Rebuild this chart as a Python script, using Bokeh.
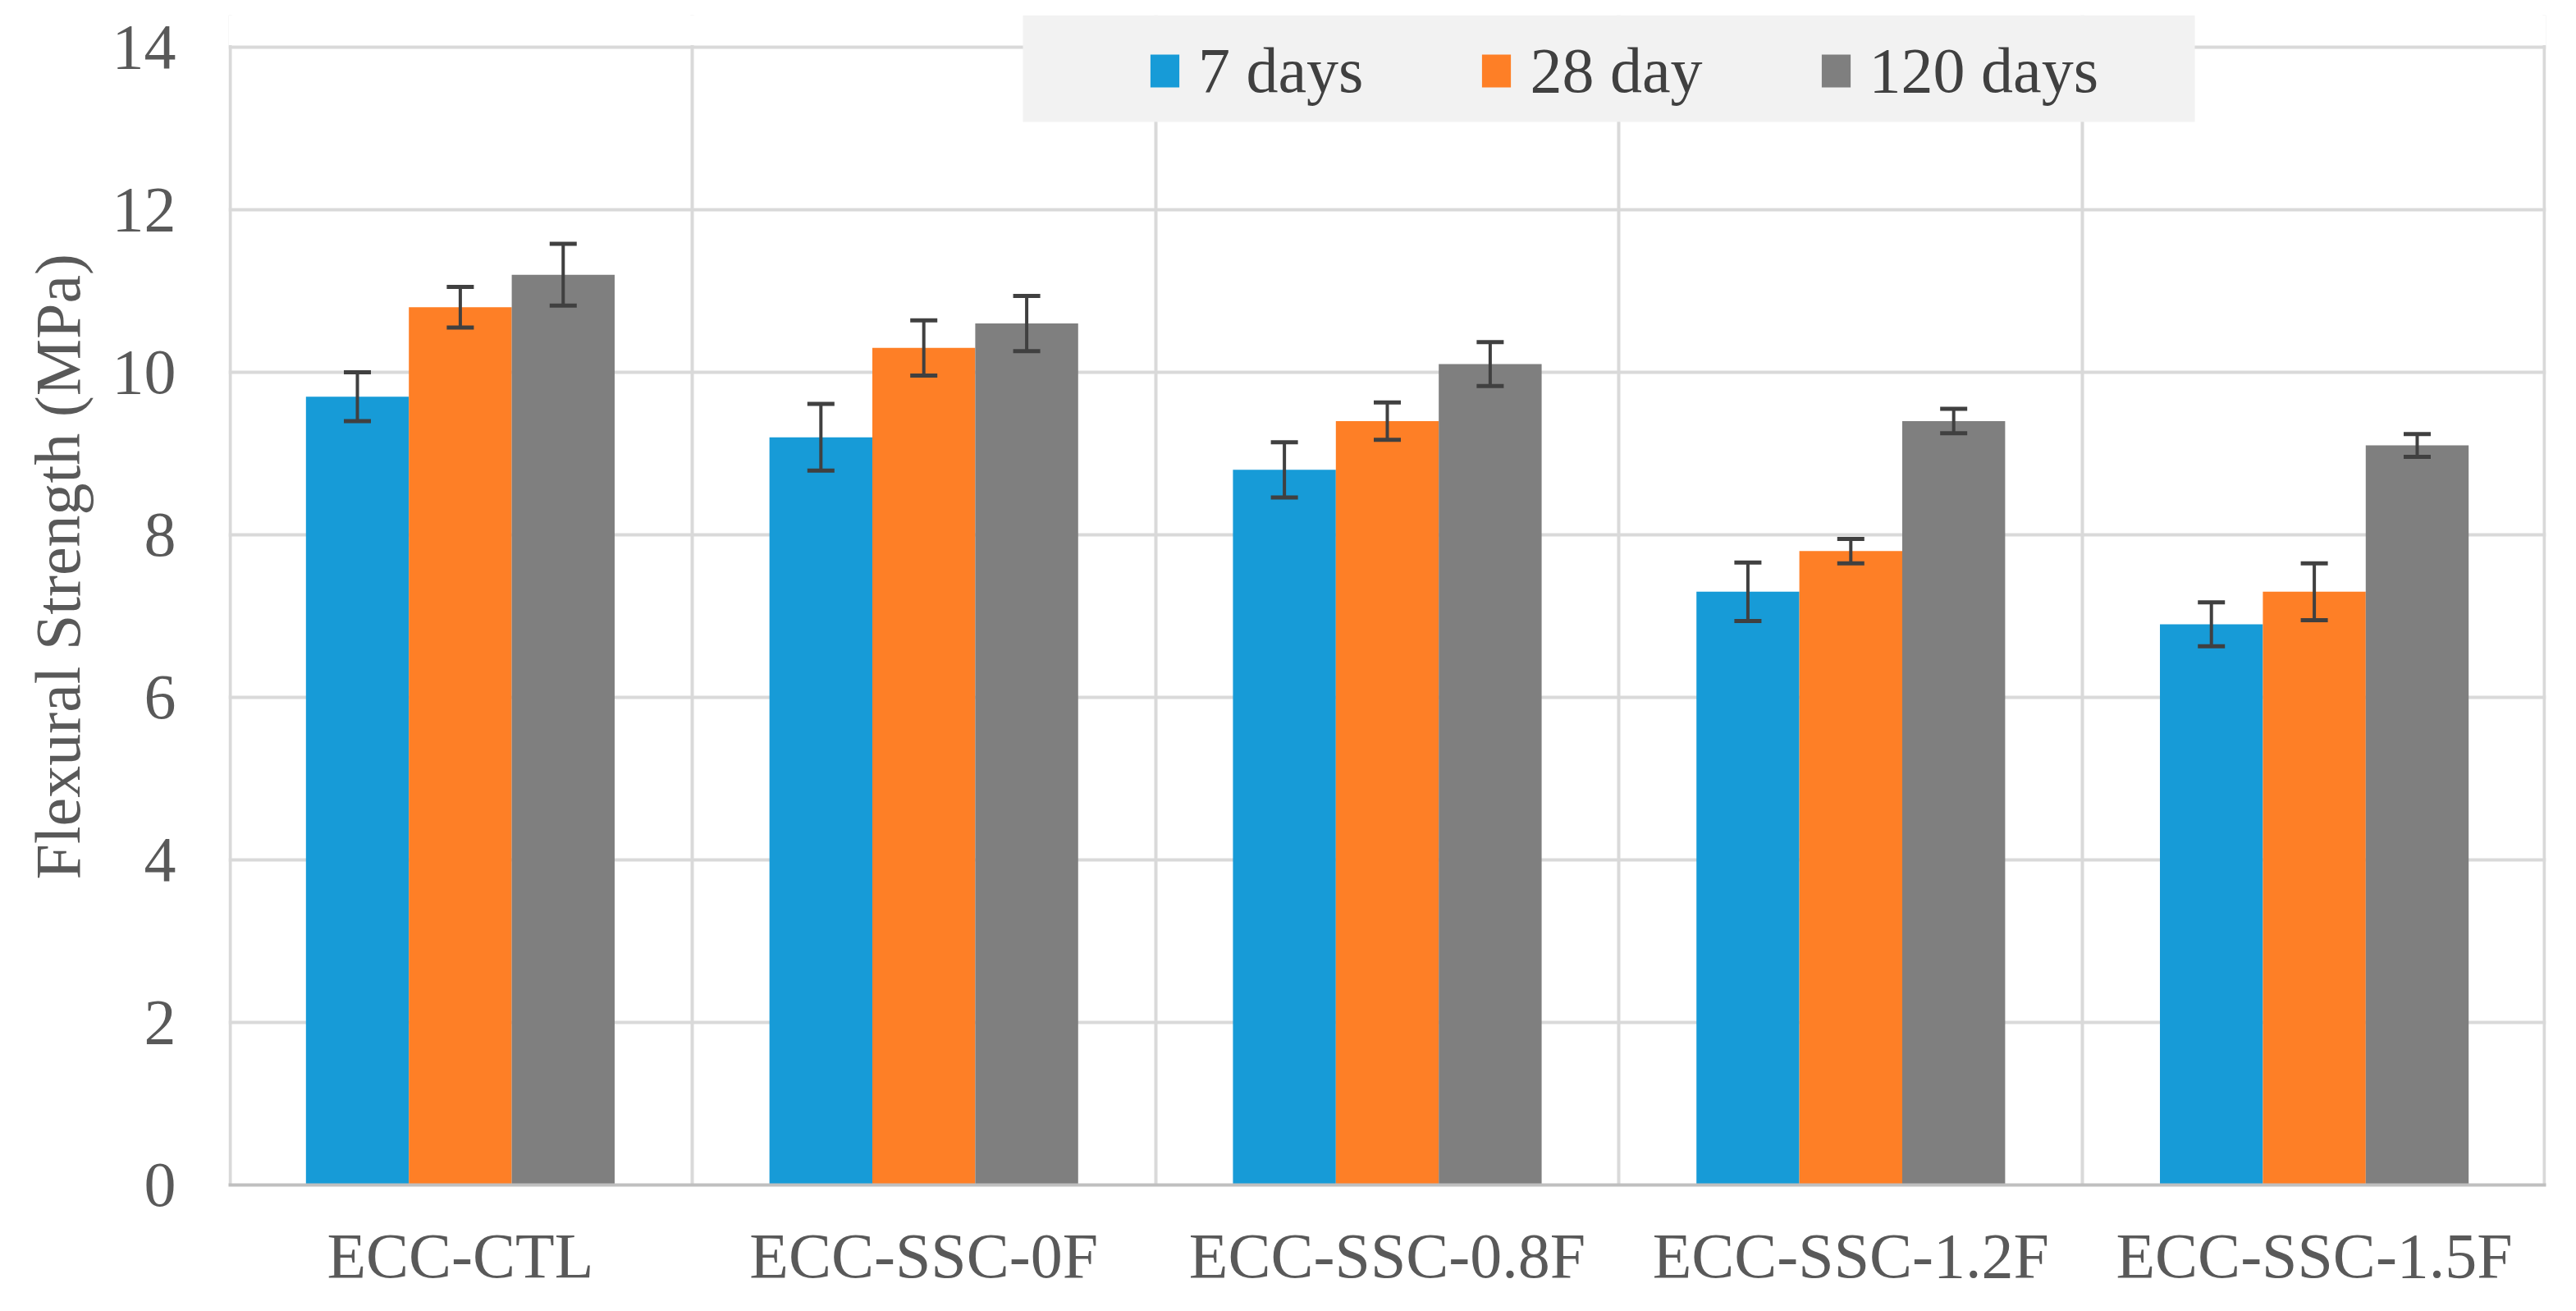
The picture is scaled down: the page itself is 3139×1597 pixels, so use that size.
from bokeh.plotting import figure
from bokeh.models import (ColumnDataSource, FactorRange, Range1d, FixedTicker,
                          Whisker, TeeHead, Legend, LegendItem, BoxAnnotation, Title)
from bokeh.transform import dodge
from bokeh.embed import file_html
from bokeh.resources import INLINE

# ---- data ----
categories = ["ECC-CTL", "ECC-SSC-0F", "ECC-SSC-0.8F", "ECC-SSC-1.2F", "ECC-SSC-1.5F"]
series_names = ["7 days", "28 day", "120 days"]
days7 = [9.7, 9.2, 8.8, 7.3, 6.9]
days28 = [10.8, 10.3, 9.4, 7.8, 7.3]
days120 = [11.2, 10.6, 10.1, 9.4, 9.1]
err7 = [0.30, 0.41, 0.34, 0.36, 0.27]
err28 = [0.25, 0.34, 0.23, 0.15, 0.35]
err120 = [0.38, 0.34, 0.27, 0.15, 0.14]
y_ticks = [0, 2, 4, 6, 8, 10, 12, 14]
y_label = "Flexural Strength (MPa)"

colors = ["#179bd7", "#fe7f26", "#7f7f7f"]
FONT = "Liberation Serif"
GRID = "#d9d9d9"

values = [days7, days28, days120]
errors = [err7, err28, err120]

data = dict(cat=categories)
for i, (v, e) in enumerate(zip(values, errors)):
    data[f"v{i}"] = v
    data[f"up{i}"] = [a + b for a, b in zip(v, e)]
    data[f"lo{i}"] = [a - b for a, b in zip(v, e)]
src = ColumnDataSource(data)

y_max = 14
# the plot frame reaches a little above the 14 line so the legend band can sit there
y_end = y_max + 39 / 99

p = figure(x_range=FactorRange(factors=categories), y_range=Range1d(0, y_end),
           width=3123, height=1581, output_backend="svg", toolbar_location=None,
           min_border_left=278, min_border_right=21, min_border_top=18,
           min_border_bottom=138)
p.background_fill_color = "white"
p.border_fill_color = "white"
p.outline_line_color = None

bw = 0.222
offsets = [-bw, 0.0, bw]
renderers = []
for i in range(3):
    r = p.vbar(x=dodge("cat", offsets[i], range=p.x_range), top=f"v{i}", width=bw,
               bottom=0, source=src, fill_color=colors[i], line_color=None)
    renderers.append(r)

for i in range(3):
    w = Whisker(base=dodge("cat", offsets[i], range=p.x_range), upper=f"up{i}",
                lower=f"lo{i}", source=src, line_color="#404040", line_width=4,
                level="annotation",
                upper_head=TeeHead(size=33, line_color="#404040", line_width=5),
                lower_head=TeeHead(size=33, line_color="#404040", line_width=5))
    p.add_layout(w)

# grids (category boundaries; the outer two sit just inside the frame edges)
edge = 0.0035
n = len(categories)
p.ygrid.ticker = FixedTicker(ticks=y_ticks)
p.ygrid.grid_line_color = GRID
p.ygrid.grid_line_width = 4
p.xgrid.ticker = FixedTicker(ticks=[edge] + list(range(1, n)) + [n - edge])
p.xgrid.grid_line_color = GRID
p.xgrid.grid_line_width = 4

# blank band above the top gridline
p.add_layout(BoxAnnotation(bottom=y_max + 0.025, fill_color="white", fill_alpha=1.0,
                           line_color=None))

# y axis
p.yaxis.ticker = FixedTicker(ticks=y_ticks)
p.yaxis.axis_line_color = None
p.yaxis.major_tick_line_color = None
p.yaxis.minor_tick_line_color = None
p.yaxis.major_label_standoff = 58
p.yaxis.major_label_text_font = FONT
p.yaxis.major_label_text_font_size = "78px"
p.yaxis.major_label_text_color = "#595959"

p.add_layout(Title(text=y_label, align="left", offset=372, standoff=40,
                   vertical_align="bottom", text_font=FONT, text_font_size="78px",
                   text_font_style="normal", text_color="#595959"), "left")

# x axis
p.xaxis.axis_line_color = "#bfbfbf"
p.xaxis.axis_line_width = 4
p.xaxis.major_tick_line_color = None
p.xaxis.minor_tick_line_color = None
p.xaxis.major_label_standoff = 36
p.xaxis.major_label_text_font = FONT
p.xaxis.major_label_text_font_size = "78px"
p.xaxis.major_label_text_color = "#595959"

# legend band
p.add_layout(BoxAnnotation(left=968, right=2396, bottom=1295, top=1425,
                           left_units="screen", right_units="screen",
                           bottom_units="screen", top_units="screen",
                           fill_color="#f2f2f2", fill_alpha=1.0, line_color=None))

legend = Legend(items=[LegendItem(label=series_names[i], renderers=[renderers[i]])
                       for i in range(3)],
                orientation="horizontal", location=(1119, 1312),
                glyph_width=44, glyph_height=50, label_standoff=19, spacing=140,
                padding=20, margin=0, background_fill_alpha=0.0,
                border_line_color=None,
                label_text_font=FONT, label_text_font_size="78px",
                label_text_color="#404040")
p.add_layout(legend)

open("out.html", "w").write(file_html(p, INLINE))
